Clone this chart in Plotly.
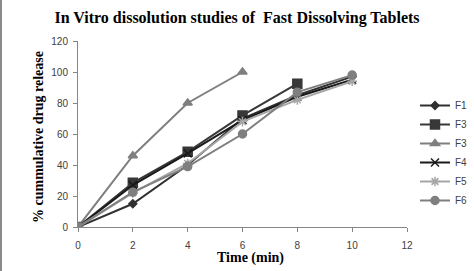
import plotly.graph_objects as go

time = [0, 2, 4, 6, 8, 10]
f1 = [0, 15, 40, 70, 85, 97]
f3_sq = [0, 28.5, 48.5, 72, 92.5]
f3_tri = [0, 46, 80, 100]
f4 = [0, 27, 47.5, 69, 84, 95]
f5 = [0, 22, 41, 68, 82, 94]
f6 = [0, 22.5, 39, 60, 87, 98]

series = [
    ("F1", f1, "#303030", "diamond", 6),
    ("F3", f3_sq, "#383838", "square", 9),
    ("F3", f3_tri, "#7f7f7f", "triangle-up", 8),
    ("F4", f4, "#1a1a1a", "x-thin-open", 8),
    ("F5", f5, "#a6a6a6", "asterisk-open", 8),
    ("F6", f6, "#7f7f7f", "circle", 8),
]

fig = go.Figure()
for name, ys, col, sym, sz in series:
    fig.add_trace(go.Scatter(
        x=time[:len(ys)], y=ys, name=name, mode="lines+markers",
        line=dict(color=col, width=2),
        marker=dict(symbol=sym, size=sz, color=col, line=dict(color=col, width=1.5)),
    ))

W, H = 474, 271
L, R, T, B = 78, 67, 41, 44
pw = W - L - R
ph = H - T - B

fig.update_layout(
    width=W, height=H,
    margin=dict(l=L, r=R, t=T, b=B, autoexpand=False),
    paper_bgcolor="white", plot_bgcolor="white",
    title=dict(text="<b>In Vitro dissolution studies of  Fast Dissolving Tablets</b>",
               x=237 / W, xanchor="center", y=1 - 17 / H, yanchor="middle",
               font=dict(family="Liberation Serif", size=16, color="black")),
    showlegend=True,
    legend=dict(x=(415 - L) / pw, y=(227 - 91) / ph, xanchor="left", yanchor="top",
                font=dict(family="Liberation Sans", size=10, color="#404040"),
                tracegroupgap=0, itemwidth=30, bgcolor="rgba(0,0,0,0)"),
    xaxis=dict(range=[0, 12], tickvals=[0, 2, 4, 6, 8, 10, 12], showgrid=False,
               zeroline=False, showline=True, linecolor="#868686", linewidth=1,
               ticks="outside", ticklen=4, tickcolor="#868686", ticklabelstandoff=5,
               tickfont=dict(family="Liberation Sans", size=10, color="#404040")),
    yaxis=dict(range=[0, 120], tickvals=[0, 20, 40, 60, 80, 100, 120], showgrid=False,
               zeroline=False, showline=True, linecolor="#868686", linewidth=1,
               ticks="outside", ticklen=4, tickcolor="#868686", ticklabelstandoff=3,
               tickfont=dict(family="Liberation Sans", size=10, color="#404040")),
    annotations=[
        dict(text="<b>Time (min)</b>", xref="paper", yref="paper",
             x=(250 - L) / pw, y=-(258 - 227) / ph, xanchor="center", yanchor="middle",
             showarrow=False, font=dict(family="Liberation Serif", size=14, color="black")),
        dict(text="<b>% cummulative drug release</b>", xref="paper", yref="paper",
             x=-(L - 38) / pw, y=(227 - 137) / ph, xanchor="center", yanchor="middle",
             textangle=-90, showarrow=False,
             font=dict(family="Liberation Serif", size=14, color="black")),
    ],
)
fig.add_shape(type="rect", xref="paper", yref="paper",
              x0=-L / pw, x1=(2 - L) / pw, y0=-B / ph, y1=1 + T / ph,
              fillcolor="#8a8a8a", line=dict(width=0))

fig.write_html("out.html")
